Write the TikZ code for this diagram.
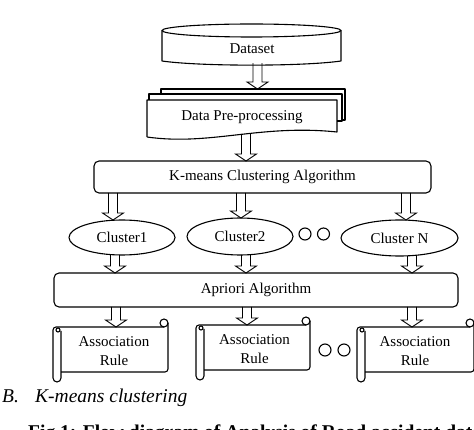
\documentclass[tikz,border=0pt]{standalone}
\usepackage{fontspec}
\setmainfont{Liberation Serif}
\usetikzlibrary{shapes.geometric,calc}
\tikzset{
  ln/.style={draw=black, line width=1.1pt, line join=round},
  txt/.style={font=\fontsize{15}{19}\selectfont, inner sep=0pt, align=center},
  frame/.style={draw=none, rectangle, inner sep=0pt, outer sep=0pt},
  rbox/.style={ln, rectangle, rounded corners=5pt, inner sep=0pt, outer sep=0pt, font=\fontsize{15}{19}\selectfont},
  cl/.style={ln, ellipse, inner sep=0pt, outer sep=0pt, font=\fontsize{15}{19}\selectfont},
  dotc/.style={ln, circle, minimum size=12pt, inner sep=0pt},
  blk/.style={draw=black, line width=0.9pt, line join=miter}
}
% hollow block arrow: from #1 (x and start y) to y of #2, x shifted by #3
\newcommand\barrow[3]{%
  \draw[blk] let \p1=(#1), \p2=(#2) in
    ({\x1+(#3pt)-4.5pt},\y1) -- ({\x1+(#3pt)-4.5pt},{\y2+7pt}) --
    ({\x1+(#3pt)-10.5pt},{\y2+7pt}) -- ({\x1+(#3pt)},\y2) --
    ({\x1+(#3pt)+10.5pt},{\y2+7pt}) -- ({\x1+(#3pt)+4.5pt},{\y2+7pt}) --
    ({\x1+(#3pt)+4.5pt},\y1);}
% horizontal scroll outline: left, right, top, bottom
\newcommand\drawscroll[4]{%
  \draw[ln] ({#2-4},#3) -- ({#1+3},#3) arc[start angle=90,end angle=180,radius=3pt]
    -- (#1,{#4+6}) arc[start angle=180,end angle=360,radius=4pt] -- ({#1+8},{#3+4});
  \draw[ln] ({#1+5},{#3+3}) circle[radius=2pt];
  \draw[ln] ({#2-4},{#3-4}) circle[radius=4pt];
  \draw[ln,rounded corners=3pt] (#2,{#3-4}) -- (#2,#4) -- ({#1+8},#4);}
\begin{document}
\begin{tikzpicture}[x=1pt,y=-1pt]
\useasboundingbox (0,0) rectangle (474,430);
\clip (0,0) rectangle (474,430);

% Dataset (cylinder)
\draw[ln] (251.5,30.5) ellipse[x radius=89.5pt, y radius=6.5pt];
\draw[ln] (162,30.5) -- (162,61) .. controls (200,66.5) and (303,66.5) .. (341,61) -- (341,30.5);
\node[frame, minimum width=179pt, minimum height=32.5pt] (ds) at (251.5,47) {};
\node[txt] (dst) at (252,49) {Dataset};

% Data pre-processing (multi document)
\draw[ln] (161,94) -- (161,89) -- (345,89) -- (345,120) -- (342,120);
\draw[ln] (149,100) -- (149,94) -- (342,94) -- (342,121) -- (337,121);
\draw[ln] (147,137) -- (147,100) -- (337,100) -- (337,132)
   .. controls (260,124) and (210,146) .. (147,137);
\node[frame, minimum width=190pt, minimum height=34pt] (pp) at (242,117) {};
\node[txt] (ppt) at (242,117) {Data Pre-processing};
\coordinate (ppTop) at ($(pp.north)+(0,-11)$);

% K-means
\node[rbox, minimum width=337pt, minimum height=32pt] (km) at (262.5,177) {K-means Clustering Algorithm};

% Clusters
\node[cl, minimum width=106pt, minimum height=35pt] (c1) at (122,237.5) {Cluster1};
\node[cl, minimum width=106pt, minimum height=37pt] (c2) at (240,236.5) {Cluster2};
\node[cl, minimum width=117pt, minimum height=36pt] (cN) at (399.5,238) {Cluster N};
\node[dotc] (d1) at (305,234) {};
\node[dotc] (d2) at (323.5,234) {};

% Apriori
\node[rbox, minimum width=404pt, minimum height=34pt] (ap) at (256,290) {Apriori Algorithm};

% Association rules (scrolls)
\drawscroll{53}{168}{327}{372}
\drawscroll{196}{310}{325}{370}
\drawscroll{357}{474}{327}{372}
\node[frame, minimum width=115pt, minimum height=45pt] (s1) at (110.5,349.5) {};
\node[frame, minimum width=114pt, minimum height=45pt] (s2) at (253,347.5) {};
\node[frame, minimum width=117pt, minimum height=45pt] (s3) at (415.5,349.5) {};
\node[txt] (s1t) at (114,351) {Association\\Rule};
\node[txt] (s2t) at (254.5,349) {Association\\Rule};
\node[txt] (s3t) at (415,351) {Association\\Rule};
\node[dotc] (d3) at (325,350) {};
\node[dotc] (d4) at (344,350) {};

% Arrows
\barrow{ds.south}{ppTop}{6}
\barrow{pp.south}{km.north}{4}
\barrow{c1.north |- km.south}{c1.north}{-9}
\barrow{c2.north |- km.south}{c2.north}{1}
\barrow{cN.north |- km.south}{cN.north}{6.5}
\barrow{c1.south}{c1.south |- ap.north}{-7}
\barrow{c2.south}{c2.south |- ap.north}{6}
\barrow{cN.south}{cN.south |- ap.north}{12.5}
\barrow{s1.north |- ap.south}{s1.north}{5.5}
\barrow{s2.north |- ap.south}{s2.north}{-6}
\barrow{s3.north |- ap.south}{s3.north}{-3.5}

% Surrounding text
\node[anchor=base west, inner sep=0pt, font=\fontsize{19.5}{22}\selectfont\itshape] (secb) at (2,402) {B.};
\node[anchor=base west, inner sep=0pt, font=\fontsize{19.5}{22}\selectfont\itshape] (sect) at (35,402) {K-means clustering};
\node[anchor=base west, inner sep=0pt, font=\fontsize{19.5}{22}\selectfont\bfseries] (cap) at (28,438) {Fig.1: Flow diagram of Analysis of Road accident data};
\end{tikzpicture}
\end{document}
